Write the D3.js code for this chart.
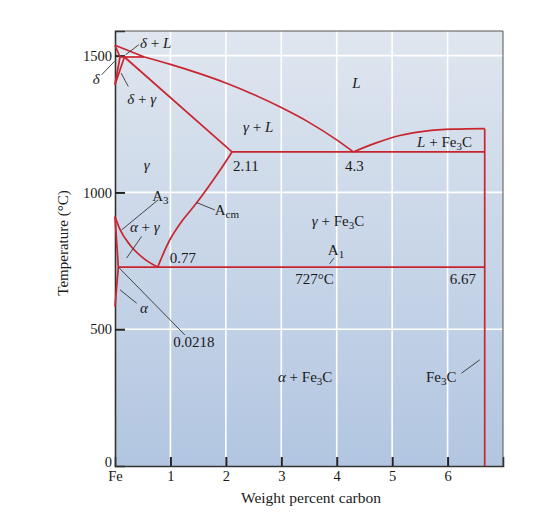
<!DOCTYPE html>
<html>
<head>
<meta charset="utf-8">
<script src="https://cdn.jsdelivr.net/npm/d3@7"></script>
<style>
  body { margin: 0; background: #fff; }
  text { font-family: "Liberation Serif", "DejaVu Serif", serif; fill: #1a1a1a; }
</style>
</head>
<body>
<script>
// axis ticks
const tempTicks = [0, 500, 1000, 1500];
const carbonTicks = [0, 1, 2, 3, 4, 5, 6];
const carbonTickLabels = ["Fe", "1", "2", "3", "4", "5", "6"];

// phase boundaries, [wt% C, temperature C]
const liquidusDelta = [[0, 1538], [0.53, 1495]];
const liquidusGamma = [[0.53, 1495], [1.0, 1468], [1.5, 1436], [2.0, 1400], [2.5, 1358], [3.0, 1310], [3.5, 1256], [4.0, 1192], [4.3, 1148]];
const liquidusCementite = [[4.3, 1148], [4.7, 1180], [5.14, 1208], [5.6, 1224], [6.1, 1231], [6.67, 1233]];
const deltaSolidus = [[0, 1538], [0.09, 1495]];
const deltaSolvus = [[0.09, 1495], [0, 1394]];
const gammaDelta = [[0.17, 1495], [0, 1394]];
const peritectic = [[0.09, 1495], [0.53, 1495]];
const gammaSolidus = [[0.17, 1495], [2.11, 1148]];
const a3Line = [[0, 912], [0.09, 865], [0.27, 808], [0.51, 760], [0.77, 727]];
const alphaGamma = [[0, 912], [0.06, 727]];
const alphaSolvus = [[0.06, 727], [0, 583]];
const acmLine = [[0.77, 727], [0.99, 827], [1.2, 893], [1.47, 961], [1.9, 1083], [2.11, 1148]];
const eutectoid = [[0.06, 727], [6.67, 727]];
const eutectic = [[2.11, 1148], [6.67, 1148]];
const cementite = [[6.67, 0], [6.67, 1233]];

const w = 555, h = 519;
const m = { left: 115, right: 503, top: 31, bottom: 466 };

const x = d3.scaleLinear().domain([0, 7]).range([m.left, m.right]);
const y = d3.scaleLinear().domain([0, 1590]).range([m.bottom, m.top]);

const svg = d3.select("body").append("svg")
  .attr("width", w)
  .attr("height", h);

// background gradient
const grad = svg.append("defs").append("linearGradient")
  .attr("id", "bg")
  .attr("x1", 0).attr("y1", 0).attr("x2", 0).attr("y2", 1);
grad.append("stop").attr("offset", "0%").attr("stop-color", "#dfe6ef");
grad.append("stop").attr("offset", "100%").attr("stop-color", "#b2c6e1");

svg.append("rect")
  .attr("x", m.left).attr("y", m.top)
  .attr("width", m.right - m.left).attr("height", m.bottom - m.top)
  .attr("fill", "url(#bg)");

// grid
svg.append("g").selectAll("line")
  .data(carbonTicks.slice(1))
  .join("line")
  .attr("x1", d => x(d)).attr("x2", d => x(d))
  .attr("y1", m.top).attr("y2", m.bottom)
  .attr("stroke", "#fff").attr("stroke-width", 1.6);

svg.append("g").selectAll("line")
  .data(tempTicks.slice(1))
  .join("line")
  .attr("x1", m.left).attr("x2", m.right)
  .attr("y1", d => y(d)).attr("y2", d => y(d))
  .attr("stroke", "#fff").attr("stroke-width", 1.6);

// top / right frame
svg.append("path")
  .attr("d", `M${m.left},${m.top}H${m.right}V${m.bottom}`)
  .attr("fill", "none").attr("stroke", "#555").attr("stroke-width", 1);

// axes
const xAxis = svg.append("g")
  .attr("transform", `translate(0,${m.bottom})`)
  .call(d3.axisBottom(x).tickValues(carbonTicks)
    .tickFormat((d, i) => carbonTickLabels[i])
    .tickSize(-9).tickPadding(5));

const yAxis = svg.append("g")
  .attr("transform", `translate(${m.left},0)`)
  .call(d3.axisLeft(y).tickValues(tempTicks).tickFormat(d => String(d))
    .tickSize(-10).tickPadding(3));

[xAxis, yAxis].forEach(g => {
  g.select(".domain").attr("stroke", "#333").attr("stroke-width", 1.6);
  g.selectAll(".tick line").attr("stroke", "#222").attr("stroke-width", 2);
  g.selectAll(".tick text")
    .style("font-family", "Liberation Serif, serif")
    .style("font-size", "14.5px").attr("fill", "#1a1a1a");
});
yAxis.selectAll(".tick").filter(d => d === 0).select("text").attr("dy", "0.05em");
yAxis.selectAll(".tick").filter(d => d === 0).select("line").remove();
xAxis.selectAll(".tick").filter(d => d === 0).select("line").remove();

// phase lines
const line = d3.line().x(d => x(d[0])).y(d => y(d[1]));
const curved = d3.line().x(d => x(d[0])).y(d => y(d[1])).curve(d3.curveMonotoneX);

const straight = [liquidusDelta, deltaSolidus, deltaSolvus, gammaDelta, peritectic, gammaSolidus,
  alphaGamma, alphaSolvus, eutectoid, eutectic, cementite];
const smooth = [liquidusGamma, liquidusCementite, a3Line];

const red = "#c9252f";
svg.append("g").selectAll("path")
  .data(straight)
  .join("path")
  .attr("d", line)
  .attr("fill", "none").attr("stroke", red).attr("stroke-width", 1.7);

svg.append("g").selectAll("path")
  .data(smooth)
  .join("path")
  .attr("d", curved)
  .attr("fill", "none").attr("stroke", red).attr("stroke-width", 1.7);

svg.append("path")
  .attr("d", d3.line().x(d => x(d[0])).y(d => y(d[1])).curve(d3.curveCatmullRom)(acmLine))
  .attr("fill", "none").attr("stroke", red).attr("stroke-width", 1.7);

// labels: text markup, position in data units
const labels = [
  ["δ + L", 0.45, 1529],
  ["δ", -0.40, 1397],
  ["δ + γ", 0.22, 1324],
  ["L", 4.28, 1382],
  ["γ + L", 2.31, 1222],
  ["L + Fe_3C", 5.45, 1167],
  ["2.11", 2.13, 1079],
  ["4.3", 4.15, 1079],
  ["γ", 0.52, 1083],
  ["A_3", 0.67, 969],
  ["α + γ", 0.27, 856],
  ["A_{cm}", 1.80, 918],
  ["0.77", 0.99, 742],
  ["α", 0.45, 560],
  ["0.0218", 1.05, 435],
  ["γ + Fe_3C", 3.55, 878],
  ["A_1", 3.84, 772],
  ["727°C", 3.25, 666],
  ["6.67", 6.04, 666],
  ["α + Fe_3C", 2.94, 307],
  ["Fe_3C", 5.61, 307]
];

// leader lines [c1, t1, c2, t2]
const leaders = [
  [0.43, 1540, 0.19, 1503],
  [-0.24, 1430, -0.01, 1479],
  [0.24, 1387, 0.11, 1436],
  [0.78, 973, 0.12, 863],
  [0.48, 839, 0.21, 760],
  [1.80, 936, 1.47, 963],
  [0.39, 595, 0.09, 644],
  [1.26, 479, 0.08, 723],
  [3.87, 739, 3.95, 760],
  [6.25, 339, 6.58, 388]
];

svg.append("g").selectAll("line")
  .data(leaders)
  .join("line")
  .attr("x1", d => x(d[0])).attr("y1", d => y(d[1]))
  .attr("x2", d => x(d[2])).attr("y2", d => y(d[3]))
  .attr("stroke", "#333").attr("stroke-width", 0.9);

const tokenRe = /_\{([^}]*)\}|_(.)|([δγαL])|([^_δγαL]+)/g;
labels.forEach(([str, c, t]) => {
  const txt = svg.append("text")
    .attr("x", x(c)).attr("y", y(t))
    .style("font-size", "15px");
  let tok;
  tokenRe.lastIndex = 0;
  while ((tok = tokenRe.exec(str)) !== null) {
    if (tok[1] !== undefined || tok[2] !== undefined) {
      txt.append("tspan").text(tok[1] !== undefined ? tok[1] : tok[2])
        .attr("baseline-shift", "-25%").style("font-size", "11px");
    } else if (tok[3] !== undefined) {
      txt.append("tspan").text(tok[3]).style("font-style", "italic");
    } else {
      txt.append("tspan").text(tok[4]);
    }
  }
});

// axis titles
svg.append("text")
  .attr("x", (m.left + m.right) / 2 + 2)
  .attr("y", 503)
  .attr("text-anchor", "middle")
  .style("font-size", "15.5px")
  .text("Weight percent carbon");

svg.append("text")
  .attr("transform", `translate(68,243) rotate(-90)`)
  .attr("text-anchor", "middle")
  .style("font-size", "15px")
  .text("Temperature (°C)");
</script>
</body>
</html>
